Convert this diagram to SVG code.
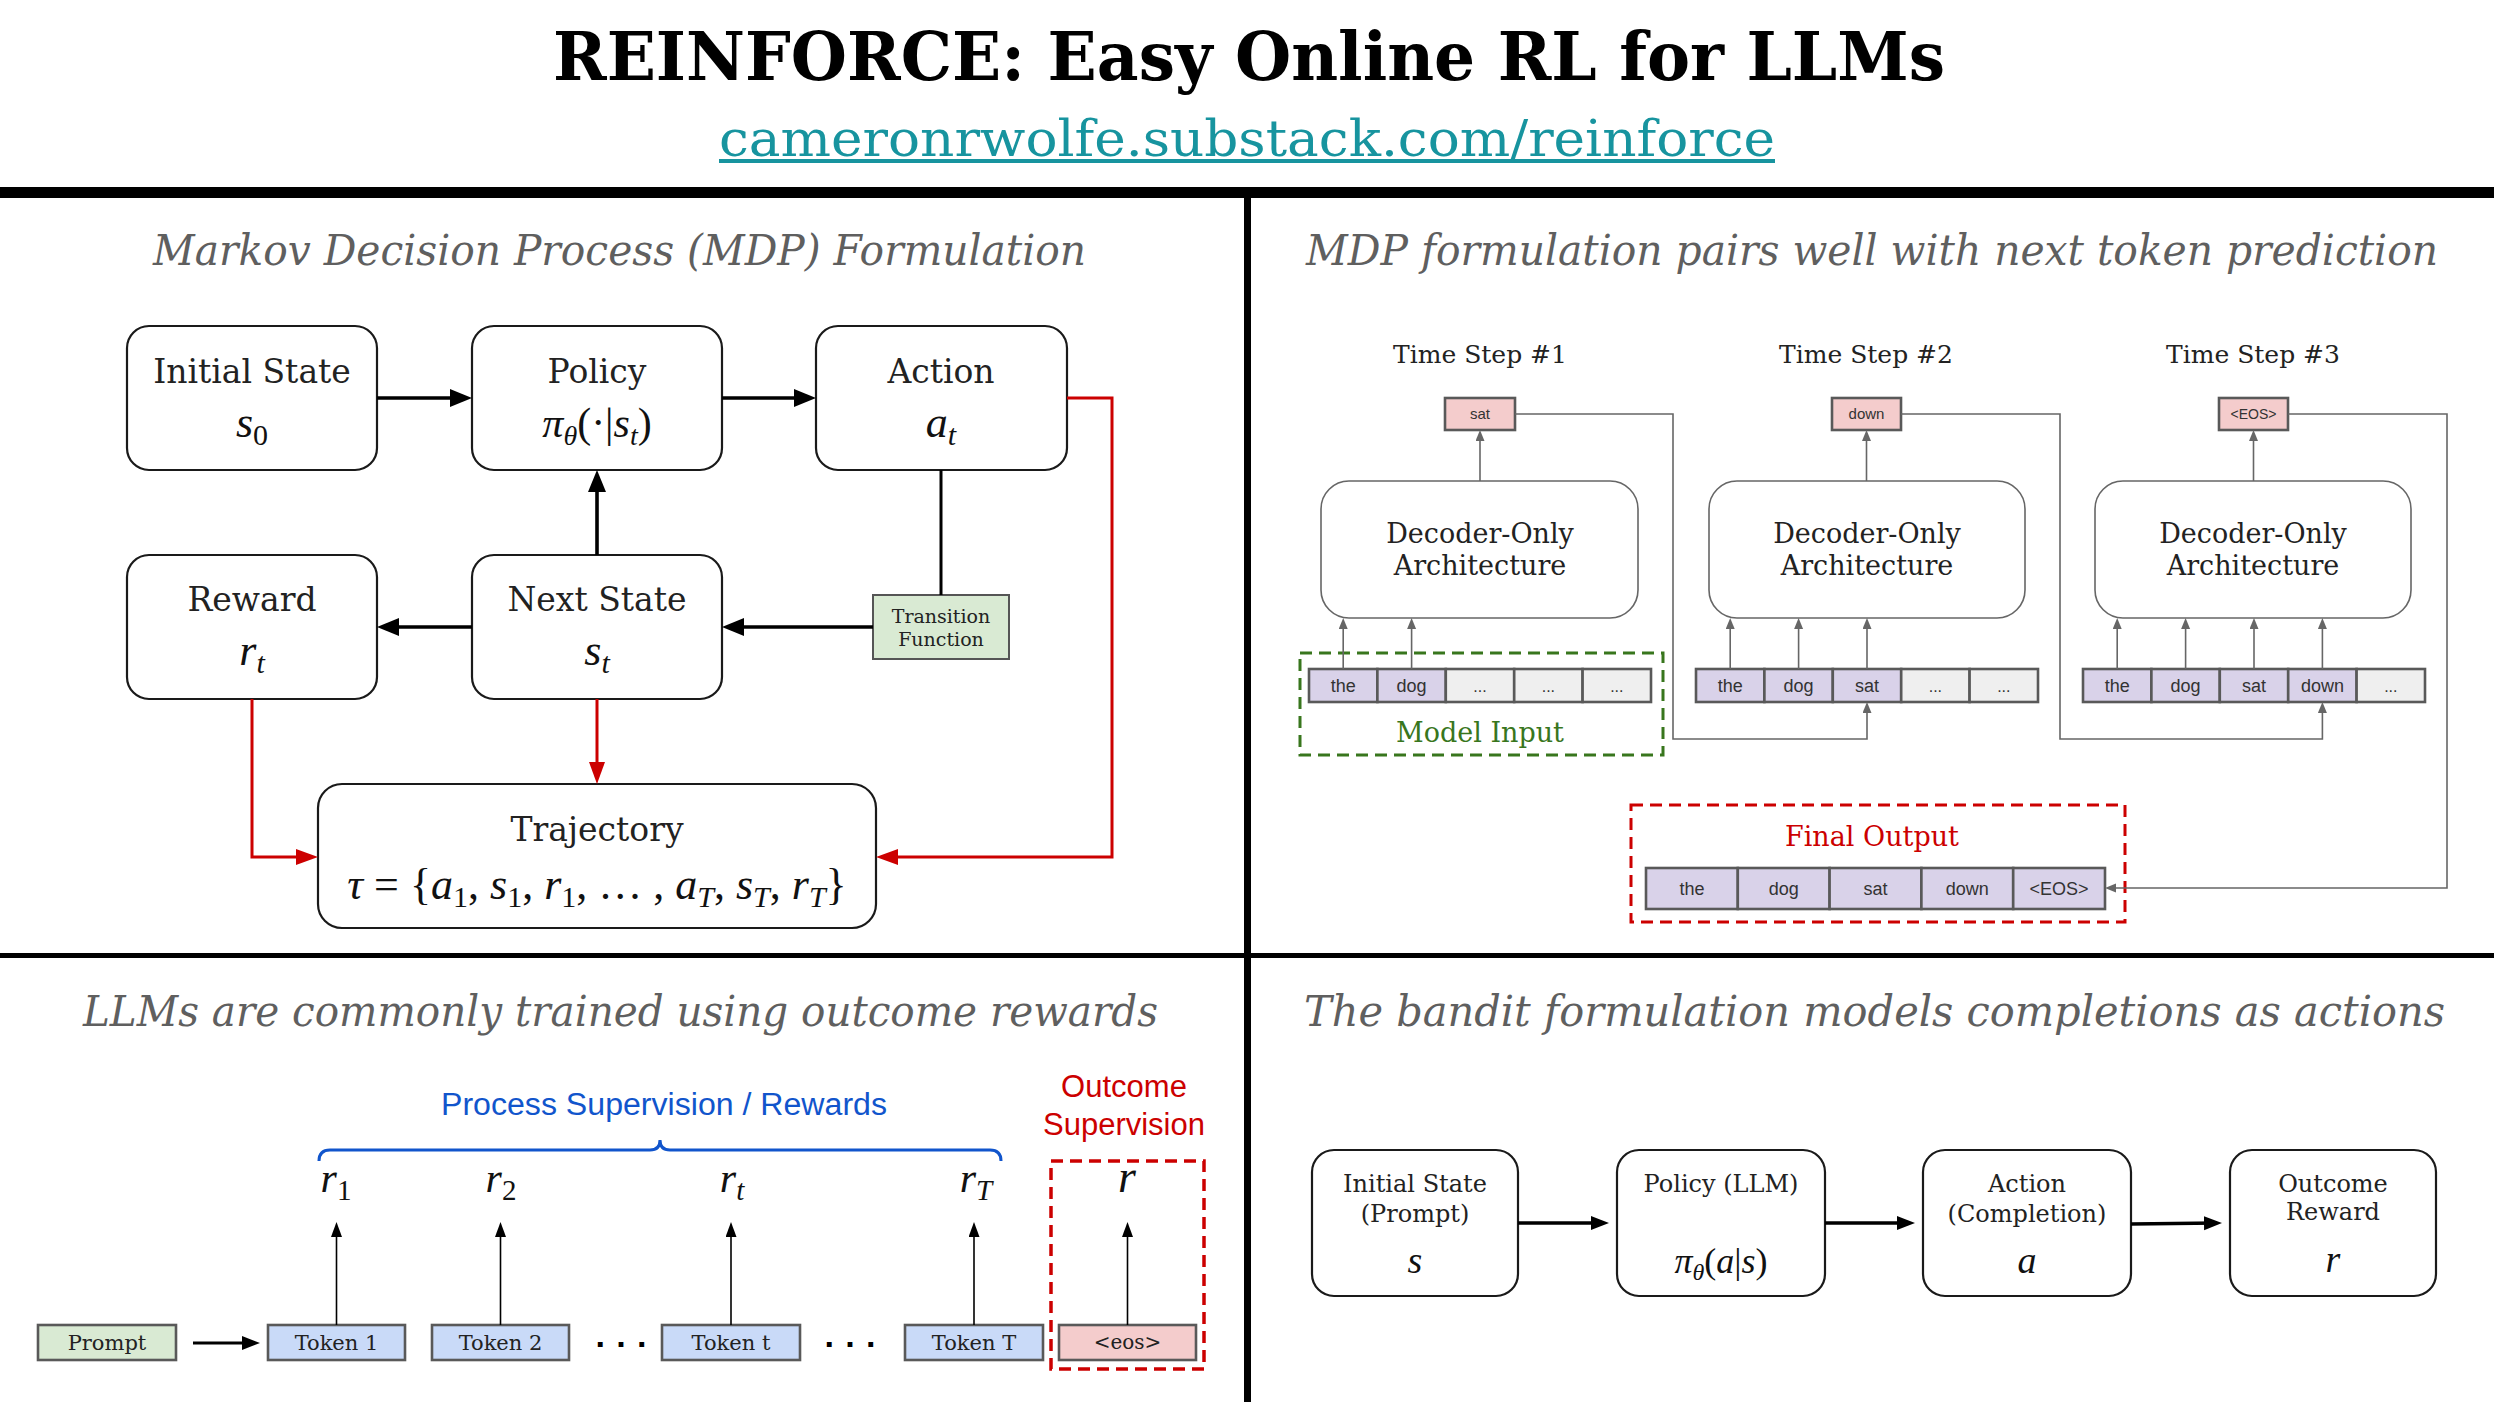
<svg xmlns="http://www.w3.org/2000/svg" width="2494" height="1402" viewBox="0 0 2494 1402">
<style>
  .ser { font-family: "DejaVu Serif", "Liberation Serif", serif; fill: #222; }
  .sec { font-family: "DejaVu Serif", "Liberation Serif", serif; font-style: italic; font-size: 42px; fill: #5f5f5f; }
  .math { font-family: "Liberation Serif", "DejaVu Serif", serif; fill: #111; }
  .it { font-style: italic; }
  .sans { font-family: "Liberation Sans", Arial, sans-serif; fill: #333; }
  .box { fill: #fff; stroke: #1a1a1a; stroke-width: 2.2; }
  .dbox { fill: #fff; stroke: #666; stroke-width: 1.6; }
  .tok { stroke: #595959; stroke-width: 2.6; }
  .lav { fill: #d9d2e9; }
  .gry { fill: #efefef; }
  .pink { fill: #f4cccc; }
  .grn { fill: #d9ead3; }
  .blu { fill: #c9daf8; }
  .bk { fill: none; stroke: #000; stroke-width: 3.6; }
  .rd { fill: none; stroke: #cc0000; stroke-width: 3; }
  .gl { fill: none; stroke: #666; stroke-width: 1.6; }
  .thin { fill: none; stroke: #000; stroke-width: 1.6; }
</style>
<defs>
  <marker id="ab" markerUnits="userSpaceOnUse" markerWidth="24" markerHeight="20" refX="16" refY="9" orient="auto">
    <path d="M0,0 L22,9 L0,18 z" fill="#000"/>
  </marker>
  <marker id="ar" markerUnits="userSpaceOnUse" markerWidth="24" markerHeight="18" refX="16" refY="8" orient="auto">
    <path d="M0,0 L22,8 L0,16 z" fill="#cc0000"/>
  </marker>
  <marker id="ag" markerUnits="userSpaceOnUse" markerWidth="12" markerHeight="10" refX="7" refY="4.5" orient="auto">
    <path d="M0,0 L11,4.5 L0,9 z" fill="#666"/>
  </marker>
  <marker id="at" markerUnits="userSpaceOnUse" markerWidth="16" markerHeight="12" refX="11" refY="5.5" orient="auto">
    <path d="M0,0 L15,5.5 L0,11 z" fill="#000"/>
  </marker>
  <marker id="am" markerUnits="userSpaceOnUse" markerWidth="20" markerHeight="16" refX="13" refY="7" orient="auto">
    <path d="M0,0 L18,7 L0,14 z" fill="#000"/>
  </marker>
</defs>

<rect x="0" y="0" width="2494" height="1402" fill="#fff"/>

<!-- Header -->
<g id="header">
  <text x="553" y="80" font-family="DejaVu Serif, Liberation Serif, serif" font-weight="bold" font-size="68" fill="#000" textLength="1392" lengthAdjust="spacingAndGlyphs">REINFORCE: Easy Online RL for LLMs</text>
  <text x="719" y="156" font-family="DejaVu Serif, Liberation Serif, serif" font-size="50" fill="#17949f" textLength="1056" lengthAdjust="spacingAndGlyphs">cameronrwolfe.substack.com/reinforce</text>
  <rect x="719" y="159" width="1056" height="4" fill="#17949f"/>
</g>

<!-- Dividers -->
<g id="dividers">
  <rect x="0" y="187" width="2494" height="11" fill="#000"/>
  <rect x="1244" y="198" width="7" height="1204" fill="#000"/>
  <rect x="0" y="953" width="2494" height="5" fill="#000"/>
</g>

<!-- Section titles -->
<g id="section-titles">
  <text class="sec" x="153" y="265" textLength="933" lengthAdjust="spacingAndGlyphs">Markov Decision Process (MDP) Formulation</text>
  <text class="sec" x="1306" y="265" textLength="1132" lengthAdjust="spacingAndGlyphs">MDP formulation pairs well with next token prediction</text>
  <text class="sec" x="83" y="1026" textLength="1075" lengthAdjust="spacingAndGlyphs">LLMs are commonly trained using outcome rewards</text>
  <text class="sec" x="1304" y="1026" textLength="1141" lengthAdjust="spacingAndGlyphs">The bandit formulation models completions as actions</text>
</g>

<!-- ================= Top-left: MDP ================= -->
<g id="mdp-initial-state">
  <rect class="box" x="127" y="326" width="250" height="144" rx="22"/>
  <text class="ser" x="252" y="383" font-size="33" text-anchor="middle">Initial State</text>
  <text class="math" x="252" y="437" font-size="44" text-anchor="middle"><tspan class="it">s</tspan><tspan font-size="30" dy="8">0</tspan></text>
</g>
<g id="mdp-policy">
  <rect class="box" x="472" y="326" width="250" height="144" rx="22"/>
  <text class="ser" x="597" y="383" font-size="33" text-anchor="middle">Policy</text>
  <text class="math" x="597" y="437" font-size="42" text-anchor="middle"><tspan class="it">π</tspan><tspan class="it" font-size="28" dy="8">θ</tspan><tspan dy="-8">(·|</tspan><tspan class="it">s</tspan><tspan class="it" font-size="28" dy="8">t</tspan><tspan dy="-8">)</tspan></text>
</g>
<g id="mdp-action">
  <rect class="box" x="816" y="326" width="251" height="144" rx="22"/>
  <text class="ser" x="941" y="383" font-size="33" text-anchor="middle">Action</text>
  <text class="math" x="941" y="437" font-size="44" text-anchor="middle"><tspan class="it">a</tspan><tspan class="it" font-size="30" dy="8">t</tspan></text>
</g>
<g id="mdp-reward">
  <rect class="box" x="127" y="555" width="250" height="144" rx="22"/>
  <text class="ser" x="252" y="611" font-size="33" text-anchor="middle">Reward</text>
  <text class="math" x="252" y="665" font-size="44" text-anchor="middle"><tspan class="it">r</tspan><tspan class="it" font-size="30" dy="8">t</tspan></text>
</g>
<g id="mdp-next-state">
  <rect class="box" x="472" y="555" width="250" height="144" rx="22"/>
  <text class="ser" x="597" y="611" font-size="33" text-anchor="middle">Next State</text>
  <text class="math" x="597" y="665" font-size="44" text-anchor="middle"><tspan class="it">s</tspan><tspan class="it" font-size="30" dy="8">t</tspan></text>
</g>
<g id="mdp-transition">
  <rect x="873" y="595" width="136" height="64" fill="#d9ead3" stroke="#555" stroke-width="2"/>
  <text class="ser" x="941" y="623" font-size="19" text-anchor="middle">Transition</text>
  <text class="ser" x="941" y="646" font-size="19" text-anchor="middle">Function</text>
</g>
<g id="mdp-trajectory">
  <rect class="box" x="318" y="784" width="558" height="144" rx="24"/>
  <text class="ser" x="597" y="841" font-size="33" text-anchor="middle">Trajectory</text>
  <text class="math" x="597" y="899" font-size="44" text-anchor="middle"><tspan class="it">τ</tspan> = {<tspan class="it">a</tspan><tspan font-size="30" dy="8">1</tspan><tspan dy="-8">, </tspan><tspan class="it">s</tspan><tspan font-size="30" dy="8">1</tspan><tspan dy="-8">, </tspan><tspan class="it">r</tspan><tspan font-size="30" dy="8">1</tspan><tspan dy="-8">,  …  , </tspan><tspan class="it">a</tspan><tspan class="it" font-size="30" dy="8">T</tspan><tspan dy="-8">, </tspan><tspan class="it">s</tspan><tspan class="it" font-size="30" dy="8">T</tspan><tspan dy="-8">, </tspan><tspan class="it">r</tspan><tspan class="it" font-size="30" dy="8">T</tspan><tspan dy="-8">}</tspan></text>
</g>

<!-- ================= Top-right: next token prediction ================= -->
<g id="ts-labels">
  <text class="ser" x="1480" y="363" font-size="25" text-anchor="middle">Time Step #1</text>
  <text class="ser" x="1866" y="363" font-size="25" text-anchor="middle">Time Step #2</text>
  <text class="ser" x="2253" y="363" font-size="25" text-anchor="middle">Time Step #3</text>
</g>
<g id="out-sat">
  <rect class="tok pink" x="1445" y="398" width="70" height="32"/>
  <text class="sans" x="1480" y="419" font-size="15" text-anchor="middle">sat</text>
</g>
<g id="out-down">
  <rect class="tok pink" x="1832" y="398" width="69" height="32"/>
  <text class="sans" x="1866.5" y="419" font-size="15" text-anchor="middle">down</text>
</g>
<g id="out-eos">
  <rect class="tok pink" x="2219" y="398" width="69" height="32"/>
  <text class="sans" x="2253.5" y="419" font-size="14" text-anchor="middle">&lt;EOS&gt;</text>
</g>
<g id="decoder-1">
  <rect class="dbox" x="1321" y="481" width="317" height="137" rx="28"/>
  <text class="ser" x="1480" y="543" font-size="27" text-anchor="middle">Decoder-Only</text>
  <text class="ser" x="1480" y="575" font-size="27" text-anchor="middle">Architecture</text>
</g>
<g id="decoder-2">
  <rect class="dbox" x="1709" y="481" width="316" height="137" rx="28"/>
  <text class="ser" x="1867" y="543" font-size="27" text-anchor="middle">Decoder-Only</text>
  <text class="ser" x="1867" y="575" font-size="27" text-anchor="middle">Architecture</text>
</g>
<g id="decoder-3">
  <rect class="dbox" x="2095" y="481" width="316" height="137" rx="28"/>
  <text class="ser" x="2253" y="543" font-size="27" text-anchor="middle">Decoder-Only</text>
  <text class="ser" x="2253" y="575" font-size="27" text-anchor="middle">Architecture</text>
</g>
<g id="input-row-1" font-size="18">
  <rect class="tok lav" x="1309" y="669" width="68.4" height="33"/>
  <rect class="tok lav" x="1377.4" y="669" width="68.4" height="33"/>
  <rect class="tok gry" x="1445.8" y="669" width="68.4" height="33"/>
  <rect class="tok gry" x="1514.2" y="669" width="68.4" height="33"/>
  <rect class="tok gry" x="1582.6" y="669" width="68.4" height="33"/>
  <text class="sans" x="1343.2" y="692" font-size="18" text-anchor="middle">the</text>
  <text class="sans" x="1411.6" y="692" font-size="18" text-anchor="middle">dog</text>
  <text class="sans" x="1480" y="692" font-size="16" text-anchor="middle">...</text>
  <text class="sans" x="1548.4" y="692" font-size="16" text-anchor="middle">...</text>
  <text class="sans" x="1616.8" y="692" font-size="16" text-anchor="middle">...</text>
</g>
<g id="input-row-2">
  <rect class="tok lav" x="1696" y="669" width="68.4" height="33"/>
  <rect class="tok lav" x="1764.4" y="669" width="68.4" height="33"/>
  <rect class="tok lav" x="1832.8" y="669" width="68.4" height="33"/>
  <rect class="tok gry" x="1901.2" y="669" width="68.4" height="33"/>
  <rect class="tok gry" x="1969.6" y="669" width="68.4" height="33"/>
  <text class="sans" x="1730.2" y="692" font-size="18" text-anchor="middle">the</text>
  <text class="sans" x="1798.6" y="692" font-size="18" text-anchor="middle">dog</text>
  <text class="sans" x="1867" y="692" font-size="18" text-anchor="middle">sat</text>
  <text class="sans" x="1935.4" y="692" font-size="16" text-anchor="middle">...</text>
  <text class="sans" x="2003.8" y="692" font-size="16" text-anchor="middle">...</text>
</g>
<g id="input-row-3">
  <rect class="tok lav" x="2083" y="669" width="68.4" height="33"/>
  <rect class="tok lav" x="2151.4" y="669" width="68.4" height="33"/>
  <rect class="tok lav" x="2219.8" y="669" width="68.4" height="33"/>
  <rect class="tok lav" x="2288.2" y="669" width="68.4" height="33"/>
  <rect class="tok gry" x="2356.6" y="669" width="68.4" height="33"/>
  <text class="sans" x="2117.2" y="692" font-size="18" text-anchor="middle">the</text>
  <text class="sans" x="2185.6" y="692" font-size="18" text-anchor="middle">dog</text>
  <text class="sans" x="2254" y="692" font-size="18" text-anchor="middle">sat</text>
  <text class="sans" x="2322.4" y="692" font-size="18" text-anchor="middle">down</text>
  <text class="sans" x="2390.8" y="692" font-size="16" text-anchor="middle">...</text>
</g>
<g id="model-input">
  <rect x="1300" y="653" width="363" height="102" fill="none" stroke="#38761d" stroke-width="3" stroke-dasharray="12,7"/>
  <text class="ser" x="1480" y="742" font-size="27" text-anchor="middle" style="fill:#38761d">Model Input</text>
</g>
<g id="final-output">
  <rect x="1631" y="805" width="494" height="117" fill="none" stroke="#cc0000" stroke-width="3" stroke-dasharray="12,7"/>
  <text class="ser" x="1872" y="846" font-size="27" text-anchor="middle" style="fill:#cc0000">Final Output</text>
  <rect class="tok lav" x="1646" y="868" width="91.8" height="41"/>
  <rect class="tok lav" x="1737.8" y="868" width="91.8" height="41"/>
  <rect class="tok lav" x="1829.6" y="868" width="91.8" height="41"/>
  <rect class="tok lav" x="1921.4" y="868" width="91.8" height="41"/>
  <rect class="tok lav" x="2013.2" y="868" width="91.8" height="41"/>
  <text class="sans" x="1691.9" y="895" font-size="18" text-anchor="middle">the</text>
  <text class="sans" x="1783.7" y="895" font-size="18" text-anchor="middle">dog</text>
  <text class="sans" x="1875.5" y="895" font-size="18" text-anchor="middle">sat</text>
  <text class="sans" x="1967.3" y="895" font-size="18" text-anchor="middle">down</text>
  <text class="sans" x="2059.1" y="895" font-size="18" text-anchor="middle">&lt;EOS&gt;</text>
</g>

<!-- ================= Bottom-left: outcome rewards ================= -->
<g id="process-label">
  <text class="sans" x="441" y="1115" font-size="31" textLength="446" lengthAdjust="spacingAndGlyphs" style="fill:#1155cc">Process Supervision / Rewards</text>
  <path d="M319,1161 Q319,1150 330,1150 L650,1150 Q660,1150 660,1140 Q660,1150 670,1150 L990,1150 Q1001,1150 1001,1161" fill="none" stroke="#1155cc" stroke-width="3"/>
</g>
<g id="outcome-label">
  <text class="sans" x="1124" y="1097" font-size="31" text-anchor="middle" style="fill:#cc0000">Outcome</text>
  <text class="sans" x="1124" y="1135" font-size="31" text-anchor="middle" style="fill:#cc0000">Supervision</text>
  <rect x="1051" y="1161" width="153" height="208" fill="none" stroke="#cc0000" stroke-width="3.5" stroke-dasharray="12,7"/>
</g>
<g id="reward-labels">
  <text class="math" x="336" y="1192" font-size="42" text-anchor="middle"><tspan class="it">r</tspan><tspan font-size="29" dy="8">1</tspan></text>
  <text class="math" x="501" y="1192" font-size="42" text-anchor="middle"><tspan class="it">r</tspan><tspan font-size="29" dy="8">2</tspan></text>
  <text class="math" x="732" y="1192" font-size="42" text-anchor="middle"><tspan class="it">r</tspan><tspan class="it" font-size="29" dy="8">t</tspan></text>
  <text class="math" x="976" y="1192" font-size="42" text-anchor="middle"><tspan class="it">r</tspan><tspan class="it" font-size="29" dy="8">T</tspan></text>
  <text class="math" x="1127" y="1192" font-size="46" text-anchor="middle" font-style="italic">r</text>
</g>
<g id="tok-prompt">
  <rect class="tok grn" x="38" y="1325" width="138" height="35"/>
  <text class="ser" x="107" y="1350" font-size="21" text-anchor="middle">Prompt</text>
</g>
<g id="tok-1">
  <rect class="tok blu" x="268" y="1325" width="137" height="35"/>
  <text class="ser" x="336.5" y="1350" font-size="21" text-anchor="middle">Token 1</text>
</g>
<g id="tok-2">
  <rect class="tok blu" x="432" y="1325" width="137" height="35"/>
  <text class="ser" x="500.5" y="1350" font-size="21" text-anchor="middle">Token 2</text>
</g>
<g id="tok-t">
  <rect class="tok blu" x="662" y="1325" width="138" height="35"/>
  <text class="ser" x="731" y="1350" font-size="21" text-anchor="middle">Token t</text>
</g>
<g id="tok-T">
  <rect class="tok blu" x="905" y="1325" width="138" height="35"/>
  <text class="ser" x="974" y="1350" font-size="21" text-anchor="middle">Token T</text>
</g>
<g id="tok-eos">
  <rect class="tok pink" x="1059" y="1325" width="137" height="35"/>
  <text class="ser" x="1127.5" y="1349" font-size="20" text-anchor="middle">&lt;eos&gt;</text>
</g>
<g id="ellipses">
  <text class="sans" x="622" y="1356" font-size="34" font-weight="bold" text-anchor="middle" style="fill:#000">· · ·</text>
  <text class="sans" x="851" y="1356" font-size="34" font-weight="bold" text-anchor="middle" style="fill:#000">· · ·</text>
</g>

<!-- ================= Bottom-right: bandit ================= -->
<g id="bandit-initial">
  <rect class="box" x="1312" y="1150" width="206" height="146" rx="22"/>
  <text class="ser" x="1415" y="1192" font-size="24" text-anchor="middle">Initial State</text>
  <text class="ser" x="1415" y="1222" font-size="24" text-anchor="middle">(Prompt)</text>
  <text class="math" x="1415" y="1273" font-size="38" text-anchor="middle" font-style="italic">s</text>
</g>
<g id="bandit-policy">
  <rect class="box" x="1617" y="1150" width="208" height="146" rx="22"/>
  <text class="ser" x="1721" y="1192" font-size="24" text-anchor="middle">Policy (LLM)</text>
  <text class="math" x="1721" y="1273" font-size="36" text-anchor="middle"><tspan class="it">π</tspan><tspan class="it" font-size="24" dy="7">θ</tspan><tspan dy="-7">(</tspan><tspan class="it">a</tspan>|<tspan class="it">s</tspan>)</text>
</g>
<g id="bandit-action">
  <rect class="box" x="1923" y="1150" width="208" height="146" rx="22"/>
  <text class="ser" x="2027" y="1192" font-size="24" text-anchor="middle">Action</text>
  <text class="ser" x="2027" y="1222" font-size="24" text-anchor="middle">(Completion)</text>
  <text class="math" x="2027" y="1273" font-size="38" text-anchor="middle" font-style="italic">a</text>
</g>
<g id="bandit-reward">
  <rect class="box" x="2230" y="1150" width="206" height="146" rx="22"/>
  <text class="ser" x="2333" y="1192" font-size="24" text-anchor="middle">Outcome</text>
  <text class="ser" x="2333" y="1220" font-size="24" text-anchor="middle">Reward</text>
  <text class="math" x="2333" y="1272" font-size="38" text-anchor="middle" font-style="italic">r</text>
</g>

<!-- ================= Connectors ================= -->
<g id="connectors">
  <!-- MDP black -->
  <line class="bk" x1="377" y1="398" x2="466" y2="398" marker-end="url(#ab)"/>
  <line class="bk" x1="722" y1="398" x2="810" y2="398" marker-end="url(#ab)"/>
  <line class="bk" x1="597" y1="555" x2="597" y2="476" marker-end="url(#ab)"/>
  <line class="bk" x1="472" y1="627" x2="383" y2="627" marker-end="url(#ab)"/>
  <line class="bk" x1="873" y1="627" x2="728" y2="627" marker-end="url(#ab)"/>
  <line x1="941" y1="470" x2="941" y2="595" stroke="#000" stroke-width="3"/>
  <!-- MDP red -->
  <path class="rd" d="M252,699 V857 H312" marker-end="url(#ar)"/>
  <line class="rd" x1="597" y1="699" x2="597" y2="778" marker-end="url(#ar)"/>
  <path class="rd" d="M1067,398 H1112 V857 H882" marker-end="url(#ar)"/>

  <!-- Next-token gray -->
  <line class="gl" x1="1480" y1="481" x2="1480" y2="434" marker-end="url(#ag)"/>
  <line class="gl" x1="1866.5" y1="481" x2="1866.5" y2="434" marker-end="url(#ag)"/>
  <line class="gl" x1="2253.5" y1="481" x2="2253.5" y2="434" marker-end="url(#ag)"/>
  <line class="gl" x1="1343.2" y1="669" x2="1343.2" y2="622" marker-end="url(#ag)"/>
  <line class="gl" x1="1411.6" y1="669" x2="1411.6" y2="622" marker-end="url(#ag)"/>
  <line class="gl" x1="1730.2" y1="669" x2="1730.2" y2="622" marker-end="url(#ag)"/>
  <line class="gl" x1="1798.6" y1="669" x2="1798.6" y2="622" marker-end="url(#ag)"/>
  <line class="gl" x1="1867" y1="669" x2="1867" y2="622" marker-end="url(#ag)"/>
  <line class="gl" x1="2117.2" y1="669" x2="2117.2" y2="622" marker-end="url(#ag)"/>
  <line class="gl" x1="2185.6" y1="669" x2="2185.6" y2="622" marker-end="url(#ag)"/>
  <line class="gl" x1="2254" y1="669" x2="2254" y2="622" marker-end="url(#ag)"/>
  <line class="gl" x1="2322.4" y1="669" x2="2322.4" y2="622" marker-end="url(#ag)"/>
  <path class="gl" d="M1515,414 H1673 V739 H1867 V706" marker-end="url(#ag)"/>
  <path class="gl" d="M1901,414 H2060 V739 H2322.4 V706" marker-end="url(#ag)"/>
  <path class="gl" d="M2288,414 H2447 V888 H2109" marker-end="url(#ag)"/>

  <!-- Outcome rewards -->
  <line x1="193" y1="1343" x2="255" y2="1343" stroke="#000" stroke-width="3" marker-end="url(#am)"/>
  <line class="thin" x1="336.5" y1="1325" x2="336.5" y2="1226" marker-end="url(#at)"/>
  <line class="thin" x1="500.5" y1="1325" x2="500.5" y2="1226" marker-end="url(#at)"/>
  <line class="thin" x1="731" y1="1325" x2="731" y2="1226" marker-end="url(#at)"/>
  <line class="thin" x1="974" y1="1325" x2="974" y2="1226" marker-end="url(#at)"/>
  <line class="thin" x1="1127.5" y1="1325" x2="1127.5" y2="1226" marker-end="url(#at)"/>

  <!-- Bandit -->
  <line x1="1518" y1="1223" x2="1604" y2="1223" stroke="#000" stroke-width="3.5" marker-end="url(#am)"/>
  <line x1="1825" y1="1223" x2="1910" y2="1223" stroke="#000" stroke-width="3.5" marker-end="url(#am)"/>
  <line x1="2131" y1="1224" x2="2217" y2="1223" stroke="#000" stroke-width="3.5" marker-end="url(#am)"/>
</g>
</svg>
